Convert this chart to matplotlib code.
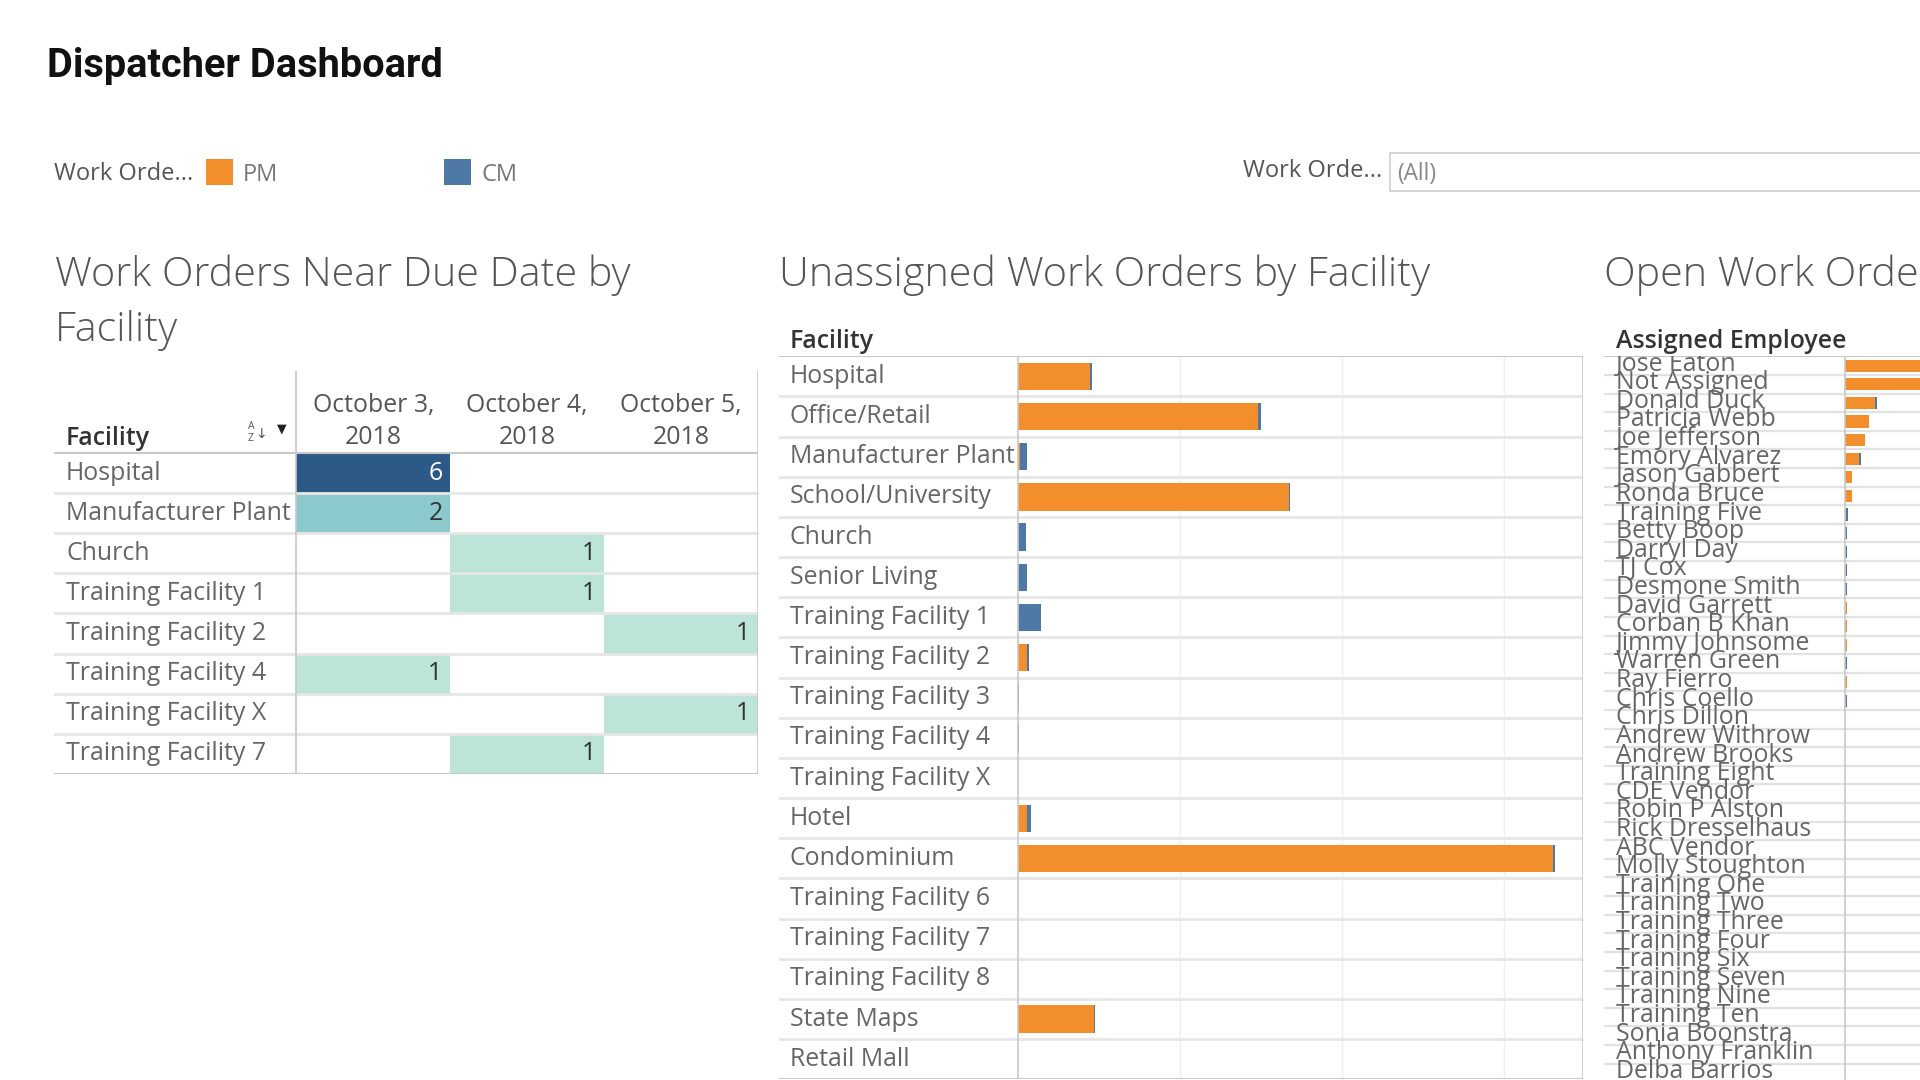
import numpy as np
import matplotlib
matplotlib.use('Agg')
import matplotlib.pyplot as plt
import matplotlib.transforms as mtransforms
from matplotlib.colors import LinearSegmentedColormap
from matplotlib.patches import Rectangle

nan = np.nan

# ---------------- data ----------------
legend_title = 'Work Orde...'
legend_labels = ['PM', 'CM']
PM_COLOR = '#F28E2B'
CM_COLOR = '#4E79A7'

filter_label = 'Work Orde...'
filter_value = '(All)'

due_dates = ['October 3,\n2018', 'October 4,\n2018', 'October 5,\n2018']
due_facilities = ['Hospital', 'Manufacturer Plant', 'Church', 'Training Facility 1',
                  'Training Facility 2', 'Training Facility 4', 'Training Facility X',
                  'Training Facility 7']
due_oct3 = [6, 2, nan, nan, nan, 1, nan, nan]
due_oct4 = [nan, nan, 1, 1, nan, nan, nan, 1]
due_oct5 = [nan, nan, nan, nan, 1, nan, 1, nan]

unassigned_facilities = ['Hospital', 'Office/Retail', 'Manufacturer Plant', 'School/University',
                         'Church', 'Senior Living', 'Training Facility 1', 'Training Facility 2',
                         'Training Facility 3', 'Training Facility 4', 'Training Facility X',
                         'Hotel', 'Condominium', 'Training Facility 6', 'Training Facility 7',
                         'Training Facility 8', 'State Maps', 'Retail Mall']
unassigned_pm = [89, 297, 3, 335, 0, 0, 1, 12, 0, 0, 0, 12, 660, 0, 0, 0, 94, 0]
unassigned_cm = [3, 3, 9, 1, 10, 12, 28, 2, 2, 2, 0, 4, 3, 0, 1, 1, 2, 1]

employees = ['Jose Eaton', 'Not Assigned', 'Donald Duck', 'Patricia Webb', 'Joe Jefferson',
             'Emory Alvarez', 'Jason Gabbert', 'Ronda Bruce', 'Training Five', 'Betty Boop',
             'Darryl Day', 'TJ Cox', 'Desmone Smith', 'David Garrett', 'Corban B Khan',
             'Jimmy Johnsome', 'Warren Green', 'Ray Fierro', 'Chris Coello', 'Chris Dillon',
             'Andrew Withrow', 'Andrew Brooks', 'Training Eight', 'CDE Vendor', 'Robin P Alston',
             'Rick Dresselhaus', 'ABC Vendor', 'Molly Stoughton', 'Training One', 'Training Two',
             'Training Three', 'Training Four', 'Training Six', 'Training Seven', 'Training Nine',
             'Training Ten', 'Sonia Boonstra', 'Anthony Franklin', 'Delba Barrios']
employee_pm = [150, 140, 37, 30, 25, 17, 8, 8, 1, 0, 0, 1, 0, 2, 2, 2, 0, 2, 0,
               0, 0, 0, 0, 0, 0, 0, 0, 0, 0, 0, 0, 0, 0, 0, 0, 0, 0, 0, 0]
employee_cm = [2, 2, 3, 0, 0, 3, 0, 0, 3, 2, 2, 1, 2, 0, 0, 0, 2, 0, 2,
               0, 0, 0, 0, 0, 0, 0, 0, 0, 0, 0, 0, 0, 0, 0, 0, 0, 0, 0, 0]

# ---------------- layout helpers ----------------
W, H = 1568.0, 882.0
def fx(x): return x / W
def fy(y): return 1 - y / H
def pt(px): return px * 0.8816

plt.rcParams['font.family'] = ['Open Sans', 'DejaVu Sans']
LABEL = '#666666'
HEAD = '#333333'
TITLE = '#555555'
SEP = '#e6e6e6'
BORDER = '#c8c8c8'
FS = pt(20.3)
TFS = pt(33.8)

fig = plt.figure(figsize=(19.2, 10.8), dpi=100, facecolor='white')

# dashboard title
fig.text(fx(38), fy(54), 'Dispatcher Dashboard', fontsize=pt(32.5), fontweight='bold',
         family=['Roboto', 'DejaVu Sans'], color='#111111', va='center', ha='left')

# legend
fig.text(fx(44), fy(142), legend_title, fontsize=pt(19.3), color='#555555', va='center')
for xs, lab, col in [(168, legend_labels[0], PM_COLOR), (363, legend_labels[1], CM_COLOR)]:
    fig.patches.append(Rectangle((fx(xs), fy(151)), fx(22), fy(130) - fy(151),
                                 transform=fig.transFigure, facecolor=col, edgecolor='none'))
    fig.text(fx(xs + 30), fy(143), lab, fontsize=pt(19.3), color='#777777', va='center')

# filter
fig.text(fx(1015), fy(140), filter_label, fontsize=pt(19.3), color='#555555', va='center')
fig.patches.append(Rectangle((fx(1135), fy(156)), 1.01 - fx(1135), fy(125) - fy(156),
                             transform=fig.transFigure, facecolor='white', edgecolor='#cfcfcf',
                             lw=1.2))
fig.text(fx(1141), fy(142), filter_value, fontsize=pt(18.5), color='#888888', va='center')

# panel titles
fig.text(fx(45), fy(225), 'Work Orders Near Due Date by', fontsize=TFS, color=TITLE,
         va='center', fontweight='light')
fig.text(fx(45), fy(270), 'Facility', fontsize=TFS, color=TITLE, va='center',
         fontweight='light')
fig.text(fx(636), fy(225), 'Unassigned Work Orders by Facility', fontsize=TFS, color=TITLE,
         va='center', fontweight='light')
ax_t = fig.add_axes([fx(1310), fy(252), 1 - fx(1310), fy(195) - fy(252)])
ax_t.axis('off')
ax_t.text(0, (252 - 225) / (252 - 195), 'Open Work Orders by Assigned Employee', fontsize=TFS,
          color=TITLE, va='center', ha='left', fontweight='light', transform=ax_t.transAxes,
          clip_on=True)

# ---------------- heatmap ----------------
cmap = LinearSegmentedColormap.from_list('blueteal', ['#bce4d8', '#9dd3d1', '#81c3cb', '#65b3c2',
                                                      '#45a2b9', '#368fae', '#347da0', '#306a93',
                                                      '#2c5985'])
nrow = len(due_facilities)
ncol = len(due_dates)
col_w = (619 - 242) / ncol
row_h = (632 - 370) / nrow
lab_w = (242 - 44) / col_w
hdr_h = (370 - 303) / row_h

axh = fig.add_axes([fx(44), fy(632), fx(619) - fx(44), fy(303) - fy(632)])
axh.set_xlim(-lab_w, ncol)
axh.set_ylim(nrow, -hdr_h)
axh.axis('off')
grid = np.ma.masked_invalid(np.array([due_oct3, due_oct4, due_oct5], dtype=float).T)
axh.pcolormesh(np.arange(ncol + 1), np.arange(nrow + 1), grid, cmap=cmap, vmin=1, vmax=6,
               zorder=1)
for r in range(nrow):
    for c in range(ncol):
        v = grid[r, c]
        if np.ma.is_masked(v):
            continue
        axh.text(c + 1 - 0.05, r + 0.5, f'{int(v)}', ha='right', va='center', fontsize=FS,
                 color='white' if v >= 4 else '#333333', zorder=4)
for r in range(1, nrow):
    axh.axhline(r, color=SEP, lw=2, zorder=3)
axh.axhline(0, color=BORDER, lw=1.5, zorder=3)
axh.axhline(nrow, color=BORDER, lw=1.5, zorder=3)
axh.plot([0, 0], [-hdr_h, nrow], color=BORDER, lw=1.2, zorder=3)
axh.plot([ncol, ncol], [-hdr_h, nrow], color=BORDER, lw=1.2, zorder=3)
transh = mtransforms.blended_transform_factory(fig.transFigure, axh.transData)
for r, name in enumerate(due_facilities):
    axh.text(fx(54), r + 0.5, name, transform=transh, ha='left', va='center', fontsize=FS,
             color=LABEL)
for c, d in enumerate(due_dates):
    line1, line2 = d.split('\n')
    axh.text(c + 0.5, (331 - 370) / row_h, line1, ha='center', va='center', fontsize=FS,
             color='#555555')
    axh.text(c + 0.5, (357 - 370) / row_h, line2, ha='center', va='center', fontsize=FS,
             color='#555555')
axh.text(fx(54), (358 - 370) / row_h, 'Facility', transform=transh, ha='left', va='center',
         fontsize=FS, color=HEAD, fontweight='semibold')
fig.text(fx(205), fy(348), 'A', fontsize=7.5, color='#555555', ha='center', va='center')
fig.text(fx(205), fy(358), 'Z', fontsize=7.5, color='#555555', ha='center', va='center')
fig.text(fx(213), fy(354), '↓', fontsize=10, color='#555555', ha='center', va='center',
         family=['DejaVu Sans'])
fig.text(fx(230), fy(350), '▼', fontsize=9, color='#222222', ha='center', va='center',
         family=['DejaVu Sans'])

# ---------------- unassigned bars ----------------
nu = len(unassigned_facilities)
ppu = 0.6625  # display px per unit
rhu = 32.8
axu_top, axu_bot = 291, 291 + rhu * nu
axu = fig.add_axes([fx(636), fy(axu_bot), fx(1293) - fx(636), fy(axu_top) - fy(axu_bot)])
axu.set_xlim(-(831 - 636) / ppu, (1293 - 831) / ppu)
axu.set_ylim(nu, 0)
for s in axu.spines.values():
    s.set_visible(False)
axu.set_xticks([200, 400, 600])
axu.set_yticks([])
axu.tick_params(length=0, labelbottom=False)
axu.grid(axis='x', color='#efefef', lw=1)
axu.set_axisbelow(True)
yu = np.arange(nu) + 0.5
axu.barh(yu, unassigned_pm, height=0.68, color=PM_COLOR, lw=0, zorder=2)
axu.barh(yu, unassigned_cm, left=unassigned_pm, height=0.68, color=CM_COLOR, lw=0, zorder=2)
for r in range(1, nu):
    axu.axhline(r, color=SEP, lw=2, zorder=3)
axu.axhline(0, color=BORDER, lw=1.5, zorder=3)
axu.axhline(nu, color=BORDER, lw=1.5, zorder=3)
axu.axvline(0, color=BORDER, lw=1.2, zorder=3)
axu.axvline((1293 - 831) / ppu, color=BORDER, lw=1.2, zorder=3)
transu = mtransforms.blended_transform_factory(fig.transFigure, axu.transData)
for r, name in enumerate(unassigned_facilities):
    axu.text(fx(645), r + 0.5, name, transform=transu, ha='left', va='center', fontsize=FS,
             color=LABEL)
axu.text(fx(645), (279 - 291) / rhu, 'Facility', transform=transu, ha='left', va='center',
         fontsize=FS, color=HEAD, fontweight='semibold', clip_on=False)

# ---------------- employee bars ----------------
ne = len(employees)
rh = 15.2
ppe = 0.65
axe_top = 291
vis_rows = (H - axe_top) / rh
axe = fig.add_axes([fx(1310), 0, 1 - fx(1310), fy(axe_top)])
axe.set_xlim(-(1507 - 1310) / ppe, (W - 1507) / ppe)
axe.set_ylim(vis_rows, 0)
axe.axis('off')
ye = np.arange(ne) + 0.5
axe.barh(ye, employee_pm, height=0.65, color=PM_COLOR, lw=0, zorder=2)
axe.barh(ye, employee_cm, left=employee_pm, height=0.65, color=CM_COLOR, lw=0, zorder=2)
for r in range(1, ne):
    axe.axhline(r, color='#e2e2e2', lw=1.6, zorder=3)
axe.axhline(0, color=BORDER, lw=1.5, zorder=3)
axe.axvline(0, color=BORDER, lw=1.2, zorder=3)
transe = mtransforms.blended_transform_factory(fig.transFigure, axe.transData)
for r, name in enumerate(employees):
    axe.text(fx(1320), r + 0.42, name, transform=transe, ha='left', va='center', fontsize=FS,
             color=LABEL, zorder=4, clip_on=True)
axe.text(fx(1320), (279 - 291) / rh, 'Assigned Employee', transform=transe, ha='left',
         va='center', fontsize=FS, color=HEAD, fontweight='semibold', clip_on=False)

fig.savefig('out.png', dpi=100, facecolor='white')
